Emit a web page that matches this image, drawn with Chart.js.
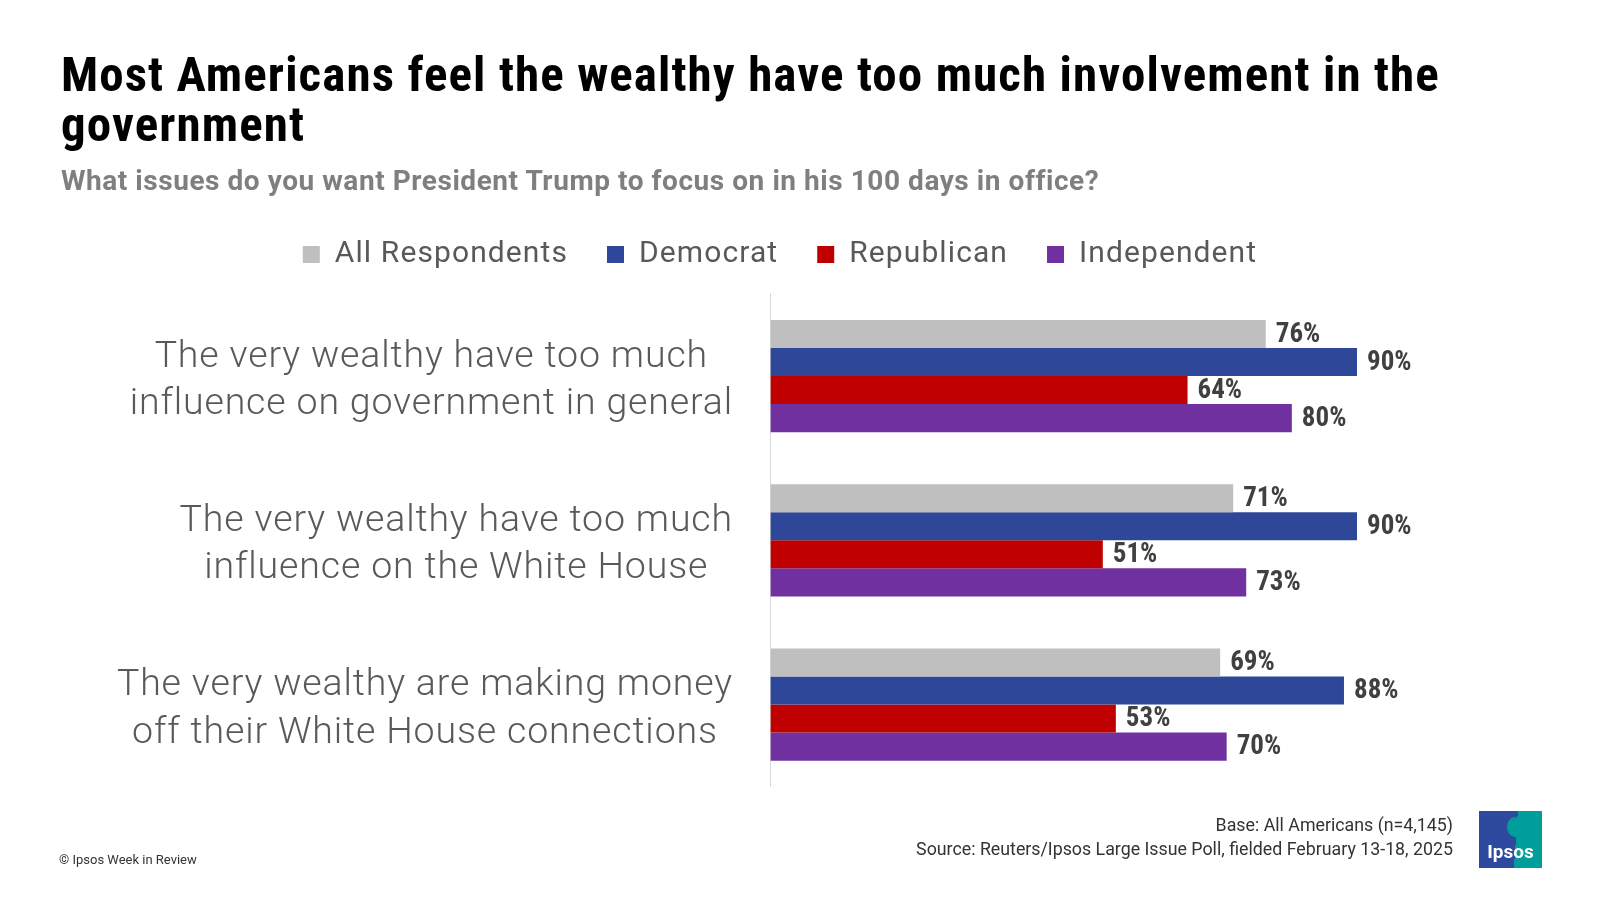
<!DOCTYPE html>
<html>
<head>
<meta charset="utf-8">
<script src="https://cdn.jsdelivr.net/npm/chart.js@4.4.1/dist/chart.umd.min.js"></script>
<style>
  html, body { margin: 0; padding: 0; background: #ffffff; }
  body { width: 1600px; height: 900px; position: relative; overflow: hidden; }
  #wrap { position: absolute; left: 0; top: 0; width: 1600px; height: 900px; }
  .title { position: absolute; left: 61px; top: 50px; width: 1480px;
    font-family: 'Roboto Condensed', 'Liberation Sans Narrow', Roboto, sans-serif;
    font-weight: 700; font-size: 49px; line-height: 50px; letter-spacing: 1.1px; color: #000; }
  .subtitle { position: absolute; left: 61px; top: 165px;
    font-family: Roboto, sans-serif; letter-spacing: 0.55px;
    font-weight: 700; font-size: 28px; line-height: 32px; color: #7f7f7f; }
  .foot { position: absolute; right: 147px; top: 813px; text-align: right;
    font-family: Roboto, sans-serif; font-size: 17.8px; line-height: 23.5px; color: #333; }
  .copy { position: absolute; left: 59px; top: 852px; font-family: Roboto, sans-serif; font-size: 13px; line-height: 16px; color: #333; }
  .logo { position: absolute; left: 1479px; top: 811px; width: 63px; height: 57px;
    background: linear-gradient(94deg, #2E4A9E 0%, #2E4A9E 58%, #009E9A 58%, #009E9A 100%);
    color: #fff; font-family: Roboto, sans-serif; font-weight: 700; font-size: 19px; text-align: center; overflow: hidden; }
  .logo span { position: absolute; left: 0; right: 0; bottom: 5px; }
  .logo i { position: absolute; left: 28px; top: 6px; width: 16px; height: 20px; border-radius: 50%; background: #009E9A; }
</style>
</head>
<body>
<div id="wrap"><canvas id="c" width="1600" height="900"></canvas></div>
<div class="title">Most Americans feel the wealthy have too much involvement in the government</div>
<div class="subtitle">What issues do you want President Trump to focus on in his 100 days in office?</div>
<div class="foot">Base: All Americans (n=4,145)<br>Source: Reuters/Ipsos Large Issue Poll, fielded February 13-18, 2025</div>
<div class="copy">© Ipsos Week in Review</div>
<div class="logo"><i></i><span>Ipsos</span></div>
<script>
const categories = [
  ["The very wealthy have too much", "influence on government in general"],
  ["The very wealthy have too much", "influence on the White House"],
  ["The very wealthy are making money", "off their White House connections"]
];
const seriesNames = ["All Respondents", "Democrat", "Republican", "Independent"];
const allRespondents = [76, 71, 69];
const democrat = [90, 90, 88];
const republican = [64, 51, 53];
const independent = [80, 73, 70];
const seriesColors = ["#BFBFBF", "#2F4799", "#C00000", "#7030A0"];

const labelFont = "'Roboto Condensed', 'Liberation Sans Narrow', Roboto, sans-serif";

const spacingPlugin = {
  id: 'spacing',
  beforeLayout(chart) { chart.ctx.letterSpacing = '1.1px'; },
  beforeDraw(chart) { chart.ctx.letterSpacing = '1.1px'; }
};

const catLabelPlugin = {
  id: 'catLabels',
  afterDraw(chart) {
    const ctx = chart.ctx;
    const y = chart.scales.y;
    ctx.save();
    ctx.letterSpacing = '0.85px';
    ctx.font = "300 37.5px Roboto";
    ctx.fillStyle = "#595959";
    ctx.textAlign = "center";
    ctx.textBaseline = "middle";
    const rightEdge = 733;
    const lh = 47.4;
    chart.data.labels.forEach((lines, i) => {
      const cy = y.getPixelForTick(i) + 5;
      const maxW = Math.max(...lines.map(l => ctx.measureText(l).width));
      const cx = rightEdge - maxW / 2;
      const start = cy - (lines.length - 1) * lh / 2;
      lines.forEach((l, j) => ctx.fillText(l, cx, start + j * lh));
    });
    ctx.restore();
  }
};

const valueLabelPlugin = {
  id: 'valueLabels',
  afterDatasetsDraw(chart) {
    const ctx = chart.ctx;
    ctx.save();
    ctx.letterSpacing = '0px';
    ctx.font = "bold 27px " + labelFont;
    ctx.fillStyle = "#404040";
    ctx.textAlign = "left";
    ctx.textBaseline = "middle";
    chart.data.datasets.forEach((ds, di) => {
      chart.getDatasetMeta(di).data.forEach((bar, i) => {
        ctx.fillText(ds.data[i] + "%", bar.x + 10, bar.y + 1);
      });
    });
    ctx.restore();
  }
};

new Chart(document.getElementById('c'), {
  type: 'bar',
  data: {
    labels: categories,
    datasets: [
      { label: seriesNames[0], data: allRespondents, backgroundColor: seriesColors[0] },
      { label: seriesNames[1], data: democrat, backgroundColor: seriesColors[1] },
      { label: seriesNames[2], data: republican, backgroundColor: seriesColors[2] },
      { label: seriesNames[3], data: independent, backgroundColor: seriesColors[3] }
    ]
  },
  options: {
    indexAxis: 'y',
    responsive: false,
    animation: false,
    devicePixelRatio: 1,
    layout: { padding: { left: 0, right: 40, top: 200.5, bottom: 113.3 } },
    datasets: { bar: { categoryPercentage: 0.683, barPercentage: 1.0, borderWidth: 0 } },
    scales: {
      x: {
        position: 'top', min: 0,
        max: (1560 - 770.4) / 6.518,
        grid: { display: false }, border: { display: false }, ticks: { display: false },
        afterFit: s => { s.height = 14.4; }
      },
      y: {
        grid: { display: false },
        border: { display: true, color: '#D9D9D9', width: 1 },
        ticks: { display: false },
        afterFit: s => { s.width = 770.4; }
      }
    },
    plugins: {
      legend: {
        position: 'top', align: 'center',
        labels: { boxWidth: 17, boxHeight: 17, padding: 39, color: '#595959', font: { family: 'Roboto', size: 30 } }
      },
      tooltip: { enabled: false }
    }
  },
  plugins: [spacingPlugin, catLabelPlugin, valueLabelPlugin]
});
</script>
</body>
</html>
